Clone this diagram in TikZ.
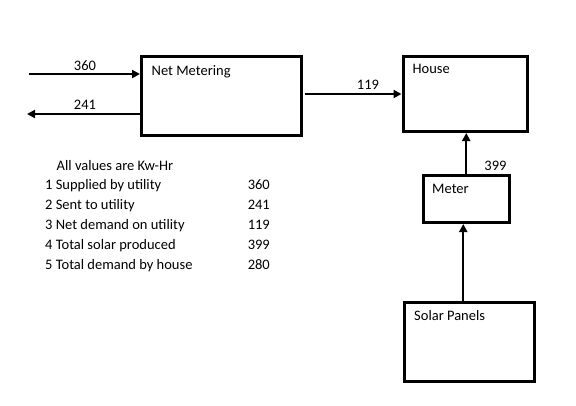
\documentclass[tikz,border=0pt]{standalone}
\usepackage{fontspec}
\setmainfont{Carlito}
\usepackage{tikz}
\usetikzlibrary{arrows.meta, positioning}
\tikzset{
    box/.style={rectangle, draw=black, line width=3pt, inner sep=0pt},
    txt/.style={inner sep=0pt, anchor=base west, font=\fontsize{14.5}{17}\selectfont},
    num/.style={inner sep=0pt, anchor=base, font=\fontsize{14.5}{17}\selectfont},
    val/.style={inner sep=0pt, anchor=base east, font=\fontsize{14.5}{17}\selectfont},
    flow/.style={line width=2.3pt, -{Triangle[length=8pt,width=8pt]}},
}
\begin{document}
\begin{tikzpicture}[x=1pt,y=-1pt]
  \useasboundingbox (0,0) rectangle (576,405);
  \node[box, minimum width=159.5pt, minimum height=79pt]   (nm)    at (221.25,96) {};
  \node[box, minimum width=124.5pt, minimum height=75pt]   (house) at (465.25,94) {};
  \node[box, minimum width=86.5pt, minimum height=47pt]    (meter) at (466.25,199) {};
  \node[box, minimum width=129.5pt, minimum height=79.5pt] (solar) at (469.25,341.75) {};

  \node[txt] (nmtext)    at (151.5,75)  {Net Metering};
  \node[txt] (housetext) at (412.5,73.5) {House};
  \node[txt] (metertext) at (432,193)   {Meter};
  \node[txt] (solartext) at (414,320)   {Solar Panels};

  \coordinate (in)  at (29,74);
  \coordinate (out) at (27,114);
  \coordinate (sp)  at ([xshift=-6pt]solar.north);
  \draw[flow] (in) -- (in -| nm.west);
  \draw[flow] (out -| nm.west) -- (out);
  \draw[flow, shorten <=2pt] (nm.east |- house.west) -- (house.west);
  \draw[flow] (meter.north) -- (meter.north |- house.south);
  \draw[flow] (sp) -- (sp |- meter.south);

  \node[num] (l360) at (85,70)    {360};
  \node[num] (l241) at (85,109)   {241};
  \node[num] (l119) at (368,89)   {119};
  \node[num] (l399) at (495.5,170) {399};

  \node[txt] (units) at (56.5,170) {All values are Kw-Hr};
  \node[txt] (r1) at (45,189) {1 Supplied by utility};
  \node[txt] (r2) at (45,209) {2 Sent to utility};
  \node[txt] (r3) at (45,229) {3 Net demand on utility};
  \node[txt] (r4) at (45,249) {4 Total solar produced};
  \node[txt] (r5) at (45,269) {5 Total demand by house};
  \node[val] (v1) at (270,189) {360};
  \node[val] (v2) at (270,209) {241};
  \node[val] (v3) at (270,229) {119};
  \node[val] (v4) at (270,249) {399};
  \node[val] (v5) at (270,269) {280};
\end{tikzpicture}
\end{document}
